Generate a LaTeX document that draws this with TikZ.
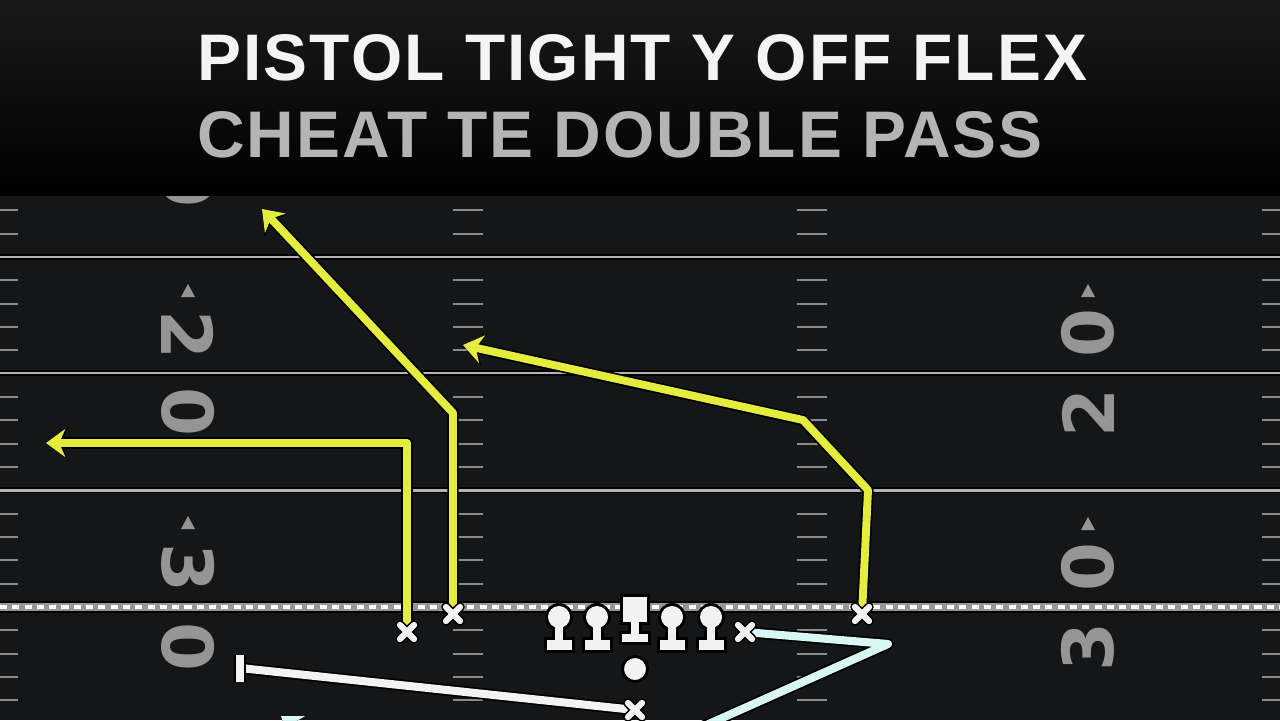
\documentclass[tikz,border=0pt]{standalone}
\usepackage{fontspec}
\setmainfont{Liberation Sans}
\newfontfamily\numfont{DejaVu Sans}
\usetikzlibrary{arrows.meta}
\definecolor{fieldbg}{HTML}{151617}
\definecolor{hashc}{HTML}{8A8A8A}
\definecolor{yardc}{HTML}{B4B4B4}
\definecolor{numc}{HTML}{959595}
\definecolor{routey}{HTML}{E4EC3E}
\definecolor{routec}{HTML}{D8F6F4}
\definecolor{routew}{HTML}{F2F2F2}
\definecolor{plc}{HTML}{F2F2F2}
\definecolor{titlea}{HTML}{F4F4F4}
\definecolor{titleb}{HTML}{B4B4B4}
\begin{document}
\begin{tikzpicture}[x=0.02cm,y=-0.02cm,
  hash/.style={draw=hashc,line width=1.1pt},
  yardln/.style={draw=yardc,line width=1.7pt,preaction={draw=black,line width=3.4pt}},
  numL/.style={font=\numfont\bfseries\fontsize{40pt}{40pt}\selectfont,text=numc,inner sep=0pt,rotate=-90},
  numR/.style={font=\numfont\bfseries\fontsize{40pt}{40pt}\selectfont,text=numc,inner sep=0pt,rotate=90},
  ttla/.style={font=\bfseries\fontsize{37.5pt}{37.5pt}\selectfont\addfontfeature{LetterSpace=3.2},inner sep=0pt,anchor=base west},
  ttlb/.style={font=\bfseries\fontsize{37.5pt}{37.5pt}\selectfont\addfontfeature{LetterSpace=3.0},inner sep=0pt,anchor=base west},
  tip/.style={-{Stealth[length=11pt,width=16pt,inset=3.5pt]}},
  yroute/.style={draw=routey,line width=4.5pt,line join=round,tip,
     preaction={draw=black,line width=6.5pt,line join=round,-{Stealth[length=12.5pt,width=19pt,inset=4pt]}}},
  wroute/.style={draw=routew,line width=4.6pt,line join=round,
     preaction={draw=black,line width=6.6pt,line join=round}},
  croute/.style={draw=routec,line width=4.6pt,line join=round,
     preaction={draw=black,line width=6.6pt,line join=round}},
  xmark/.style={minimum size=0.7cm,inner sep=0pt,
     path picture={
       \draw[black,line width=5.4pt,line cap=round] (path picture bounding box.center) ++(-7,-7) -- ++(14,14) ++(0,-14) -- ++(-14,14);
       \draw[plc,line width=3.6pt,line cap=round] (path picture bounding box.center) ++(-7,-7) -- ++(14,14) ++(0,-14) -- ++(-14,14);
     }},
  lineman/.pic={
     \fill[black] (0,0) circle[radius=14];
     \fill[black] (-7,0) rectangle (7,27);
     \fill[black] (-15.5,20) rectangle (15.5,36);
     \fill[plc] (0,0) circle[radius=11];
     \fill[plc] (-4,0) rectangle (4,24);
     \fill[plc] (-12.5,23) rectangle (12.5,33);
  },
  centerman/.pic={
     \fill[black] (-15,-16) rectangle (15,15);
     \fill[black] (-7,12) rectangle (7,28);
     \fill[black] (-16,21) rectangle (16,35);
     \fill[plc] (-12,-13) rectangle (12,12);
     \fill[plc] (-4,11) rectangle (4,25);
     \fill[plc] (-13,24) rectangle (13,32);
  }
]
\useasboundingbox (0,0) rectangle (1280,720);
\clip (0,0) rectangle (1280,720);
\fill[fieldbg] (0,0) rectangle (1280,720);

% hash marks
\foreach \n in {-2,-1,1,2,3,4,6,7,8,9,11,12,13,14,16,17,18,19}{
  \pgfmathsetmacro\yy{257+23.333*\n}
  \draw[hash] (0,\yy) -- (18,\yy) (453,\yy) -- (483,\yy) (797,\yy) -- (827,\yy) (1262,\yy) -- (1280,\yy);
}
% yard lines
\foreach \yy in {257,373,490}{
  \draw[yardln] (0,\yy) -- (1280,\yy);
}
% line of scrimmage
\draw[draw=black,line width=6.4pt] (0,607) -- (1280,607);
\draw[draw=hashc!90,line width=4.8pt] (0,607) -- (1280,607);
\draw[draw=white,line width=2.6pt,dash pattern=on 4pt off 3pt] (0,607) -- (1280,607);

% yard numbers
\node[numL] (nl0) at (188,183) {0};
\node[numL] (nl1) at (188,335) {2};
\node[numL] (nl2) at (188,412) {0};
\node[numL] (nl3) at (188,568) {3};
\node[numL] (nl4) at (188,647) {0};
\node[numR] (nr1) at (1088,333) {0};
\node[numR] (nr2) at (1088,413) {2};
\node[numR] (nr3) at (1088,567) {0};
\node[numR] (nr4) at (1088,647) {3};
\fill[numc] (181,297) -- (195,297) -- (188,284) -- cycle;
\fill[numc] (181,529) -- (195,529) -- (188,516) -- cycle;
\fill[numc] (1081,297) -- (1095,297) -- (1088,284) -- cycle;
\fill[numc] (1081,530) -- (1095,530) -- (1088,517) -- cycle;

% header
\shade[top color=black!90,middle color=black!74,bottom color=black] (0,0) rectangle (1280,195);
\node[ttla,text=titlea] (t1) at (197,80) {PISTOL TIGHT Y OFF FLEX};
\node[ttlb,text=titleb] (t2) at (197,157) {CHEAT TE DOUBLE PASS};

% player spots
\coordinate (xa) at (407,632);
\coordinate (xb) at (453,614);
\coordinate (xc) at (862,614);
\coordinate (xd) at (745,632);
\coordinate (xe) at (635,710);
% route waypoints
\coordinate (a1) at (407,443);
\coordinate (a2) at (46,443);
\coordinate (b1) at (453,413);
\coordinate (b2) at (262,209);
\coordinate (c1) at (868,490);
\coordinate (c2) at (803,420);
\coordinate (c3) at (463,345);
\coordinate (d1) at (240,668);
\coordinate (d1t) at (240,655);
\coordinate (d1b) at (240,682);
\coordinate (e1) at (888,644);
\coordinate (e2) at (684,735);
\coordinate (f0) at (322,746);
\coordinate (f1) at (281,716);

% routes
\draw[yroute] (xa) -- (a1) -- (a2);
\draw[yroute] (xb) -- (b1) -- (b2);
\draw[yroute] (xc) -- (c1) -- (c2) -- (c3);
\draw[wroute] (xe) -- (d1);
\draw[wroute,line cap=butt] (d1t) -- (d1b);
\draw[croute] (xd) -- (e1) -- (e2);
\draw[croute,-{Stealth[length=11pt,width=16pt,inset=3.5pt]}] (f0) -- (f1);

% receivers
\node[xmark] (ma) at (xa) {};
\node[xmark] (mb) at (xb) {};
\node[xmark] (mc) at (xc) {};
\node[xmark] (md) at (xd) {};
\node[xmark] (me) at (xe) {};

% offensive line and QB
\pic (lt) at (559,617) {lineman};
\pic (lg) at (597,617) {lineman};
\pic (ct) at (635,610) {centerman};
\pic (rg) at (672,617) {lineman};
\pic (rt) at (711,617) {lineman};
\node[circle,fill=plc,draw=black,line width=1.6pt,minimum size=0.5cm,inner sep=0pt] (qb) at (635,669) {};
\end{tikzpicture}
\end{document}
